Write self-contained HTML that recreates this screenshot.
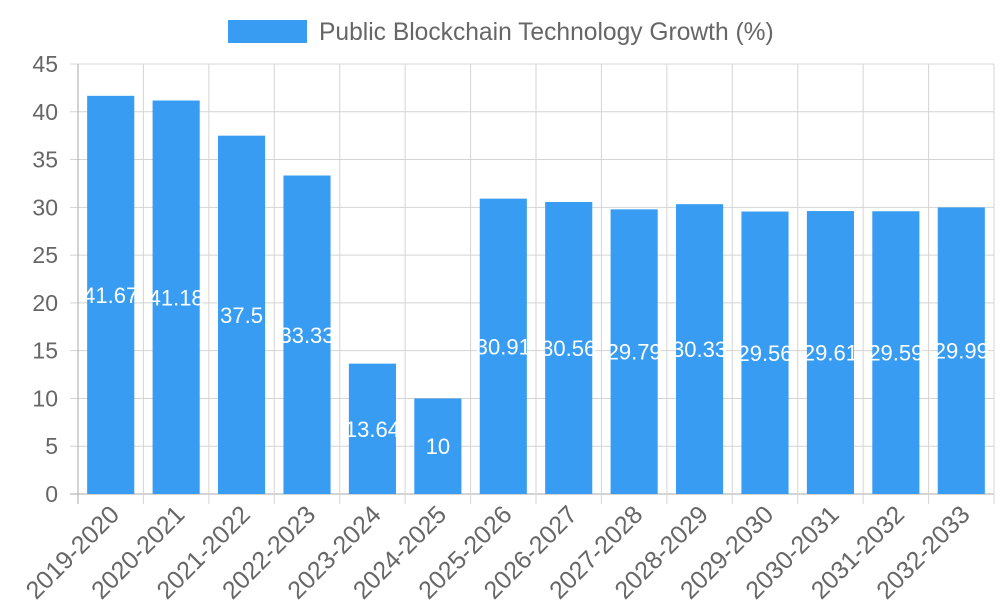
<!DOCTYPE html>
<html><head><meta charset="utf-8"><style>
body{margin:0;background:#fff;}
svg{display:block;font-family:"Liberation Sans",sans-serif;}
</style></head><body>
<svg id="c" width="1000" height="600"></svg>
<script>
const categories=["2019-2020","2020-2021","2021-2022","2022-2023","2023-2024","2024-2025","2025-2026","2026-2027","2027-2028","2028-2029","2029-2030","2030-2031","2031-2032","2032-2033"];
const values=[41.67,41.18,37.5,33.33,13.64,10,30.91,30.56,29.79,30.33,29.56,29.61,29.59,29.99];
const yTicks=[0,5,10,15,20,25,30,35,40,45];
const seriesName="Public Blockchain Technology Growth (%)";
const svg=document.getElementById('c');
const NS="http://www.w3.org/2000/svg";
const L=78,R=994,T=64,B=494,yMax=45;
const y=v=>B-(v/yMax)*(B-T);
const bw=(R-L)/categories.length;
const x=i=>L+i*bw;
function mk(t,a,p){const e=document.createElementNS(NS,t);for(const k in a)e.setAttribute(k,a[k]);(p||svg).appendChild(e);return e;}
yTicks.forEach(v=>{
 const g=mk('line',{x1:L-8,x2:R,y1:y(v),y2:y(v),stroke:v===0?'#aaa':'#d4d4d4','stroke-width':1});
 
 
 const t=mk('text',{x:L-20,y:y(v)+8,'text-anchor':'end','font-size':23,fill:'#666'});
 t.textContent=v;
 
 
});
for(let i=0;i<=categories.length;i++){
 const g=mk('line',{x1:x(i),x2:x(i),y1:T,y2:B+10,stroke:i===0?'#aaa':'#d4d4d4','stroke-width':1});
 
 
}
categories.forEach((c,i)=>{
 const w=bw*0.72, bx=x(i)+(bw-w)/2;
 const r=mk('rect',{x:bx,y:y(values[i]),width:w,height:B-y(values[i]),fill:'#379cf2'});
 
 
});
categories.forEach((c,i)=>{
 const cx=x(i)+bw/2;
 const t=mk('text',{x:cx,y:(y(values[i])+B)/2+8,'text-anchor':'middle','font-size':22,fill:'#fff'});
 t.textContent=values[i];
 
 
 const xl=mk('text',{x:0,y:0,'text-anchor':'end','font-size':25,fill:'#666',transform:`translate(${cx+10},${B+22}) rotate(-45)`});
 xl.textContent=c;
 
 
});
const lg=mk('g',{});


mk('rect',{x:228,y:20,width:79,height:23,fill:'#379cf2'},lg);
const lt=mk('text',{x:319,y:40,'font-size':24.6,fill:'#666'},lg);
lt.textContent=seriesName;
</script>
</body></html>
